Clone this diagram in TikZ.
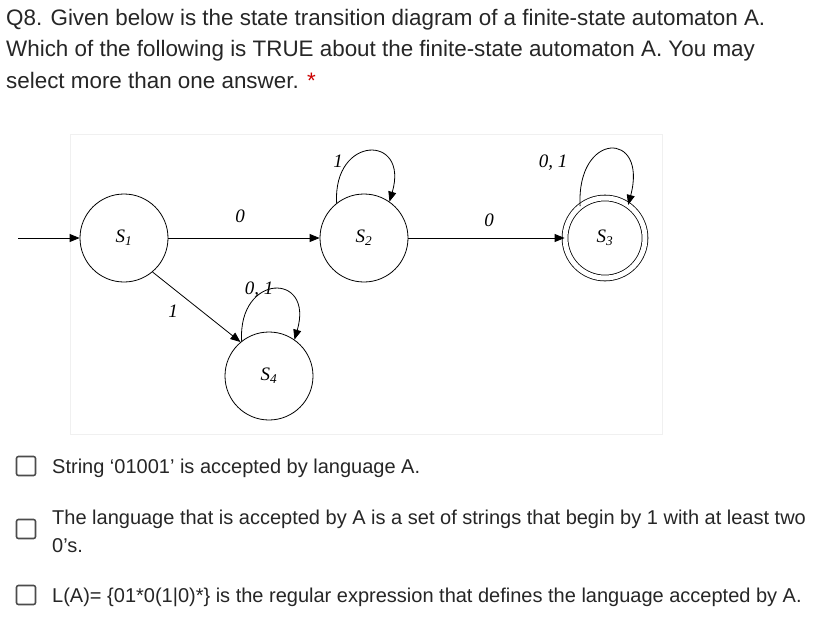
\documentclass[tikz,border=0pt]{standalone}
\usepackage{fontspec}
\setmainfont{Liberation Sans}
\newfontfamily\tms{Liberation Serif}
\usetikzlibrary{arrows.meta}
\begin{document}
\begin{tikzpicture}[x=1pt,y=-1pt,
  st/.style={circle,draw,line width=0.8pt,minimum size=88pt,inner sep=0pt,font=\tms\itshape\fontsize{19}{19}\selectfont},
  lab/.style={font=\tms\itshape\fontsize{19}{19}\selectfont,inner sep=0pt},
  tr/.style={line width=0.8pt,-{Triangle[length=10pt,width=8pt]}},
  q/.style={anchor=base west,inner sep=0pt,font=\fontsize{22.4}{22.4}\selectfont,text=black!85},
  opt/.style={anchor=base west,inner sep=0pt,font=\fontsize{20}{20}\selectfont,text=black!85},
  cb/.style={draw=black!70,line width=1.6pt,rounded corners=2pt,minimum size=19pt,inner sep=0pt}]
\useasboundingbox (0,0) rectangle (820,619);
\fill[white] (0,0) rectangle (820,619);
\node[q] (t1) at (6,25) {Q8. Given below is the state transition diagram of a finite-state automaton A.};
\node[q] (t2) at (6,56) {Which of the following is TRUE about the finite-state automaton A. You may};
\node[q] (t3) at (6,88) {select more than one answer. \textcolor{red!80!black}{*}};
\draw[black!6,line width=1pt] (70,134) rectangle (662,434);
\node[st] (s1) at (124,238) {S\textsubscript{1}};
\node[st] (s2) at (364,238) {S\textsubscript{2}};
\node[st,double=white,double distance=5pt,minimum size=80pt] (s3) at (605,238) {S\textsubscript{3}};
\node[st] (s4) at (269,376) {S\textsubscript{4}};
\coordinate (in) at (18,238);
\draw[tr] (in) -- (s1);
\draw[tr] (s1) -- (s2);
\draw[tr] (s2) -- (s3);
\draw[tr] (s1.-50) -- (s4.130);
\draw[tr] (s2.128) .. controls +(-4,-68) and +(20,-68) .. (s2.55);
\draw[tr] (s3.128) .. controls +(-4,-75) and +(20,-75) .. (s3.55);
\draw[tr] (s4.128) .. controls +(-4,-68) and +(20,-68) .. (s4.55);
\node[lab] (l1) at (240,216) {0};
\node[lab] (l2) at (489,220) {0};
\node[lab] (l3) at (173,311) {1};
\node[lab] (l4) at (338,161) {1};
\node[lab] (l5) at (553,163) {0, 1};
\node[lab] (l6) at (259,290) {0, 1};
\node[cb] (c1) at (26,466) {};
\node[opt] (o1) at (52,473) {String ‘01001’ is accepted by language A.};
\node[cb] (c2) at (26,529) {};
\node[opt] (o2) at (52,524) {The language that is accepted by A is a set of strings that begin by 1 with at least two};
\node[opt] (o2b) at (52,552) {0's.};
\node[cb] (c3) at (26,595) {};
\node[opt] (o3) at (52,602) {L(A)= \{01*0(1|0)*\} is the regular expression that defines the language accepted by A.};
\end{tikzpicture}
\end{document}
